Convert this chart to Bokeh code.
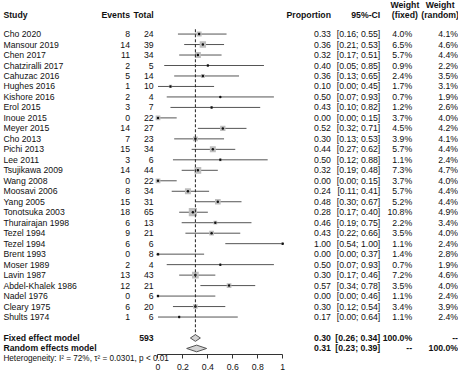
from bokeh.plotting import figure
from bokeh.models import Range1d, ColumnDataSource, FixedTicker, NumeralTickFormatter
from bokeh.core.properties import value
from bokeh.embed import file_html
from bokeh.resources import INLINE
import math

studies = ["Cho 2020", "Mansour 2019", "Chen 2017", "Chatziralli 2017", "Cahuzac 2016",
           "Hughes 2016", "Kishore 2016", "Erol 2015", "Inoue 2015", "Meyer 2015",
           "Cho 2013", "Pichi 2013", "Lee 2011", "Tsujikawa 2009", "Wang 2008",
           "Moosavi 2006", "Yang 2005", "Tonotsuka 2003", "Thurairajan 1998", "Tezel 1994",
           "Tezel 1994", "Brent 1993", "Moser 1989", "Lavin 1987", "Abdel-Khalek 1986",
           "Nadel 1976", "Cleary 1975", "Shults 1974"]
events = [8, 14, 11, 2, 5, 1, 2, 3, 0, 14, 7, 15, 3, 14, 0, 8, 15, 18, 6, 9, 6, 0, 2, 13, 12, 0, 6, 1]
totals = [24, 39, 34, 5, 14, 10, 4, 7, 22, 27, 23, 34, 6, 44, 22, 34, 31, 65, 13, 21, 6, 8, 4, 43, 21, 6, 20, 6]
prop = [0.33, 0.36, 0.32, 0.40, 0.36, 0.10, 0.50, 0.43, 0.00, 0.52, 0.30, 0.44, 0.50, 0.32, 0.00,
        0.24, 0.48, 0.28, 0.46, 0.43, 1.00, 0.00, 0.50, 0.30, 0.57, 0.00, 0.30, 0.17]
lower = [0.16, 0.21, 0.17, 0.05, 0.13, 0.00, 0.07, 0.10, 0.00, 0.32, 0.13, 0.27, 0.12, 0.19, 0.00,
         0.11, 0.30, 0.17, 0.19, 0.22, 0.54, 0.00, 0.07, 0.17, 0.34, 0.00, 0.12, 0.00]
upper = [0.55, 0.53, 0.51, 0.85, 0.65, 0.45, 0.93, 0.82, 0.15, 0.71, 0.53, 0.62, 0.88, 0.48, 0.15,
         0.41, 0.67, 0.40, 0.75, 0.66, 1.00, 0.37, 0.93, 0.46, 0.78, 0.46, 0.54, 0.64]
w_fixed = [4.0, 6.5, 5.7, 0.9, 2.4, 1.7, 0.7, 1.2, 3.7, 4.5, 3.9, 5.7, 1.1, 7.3, 3.7,
           5.7, 5.2, 10.8, 2.2, 3.5, 1.1, 1.4, 0.7, 7.2, 3.5, 1.1, 3.4, 1.1]
w_random = [4.1, 4.6, 4.4, 2.2, 3.5, 3.1, 1.9, 2.6, 4.0, 4.2, 4.1, 4.4, 2.4, 4.7, 4.0,
            4.4, 4.4, 4.9, 3.4, 4.0, 2.4, 2.8, 1.9, 4.6, 4.0, 2.4, 3.9, 2.4]

fixed_est, fixed_lo, fixed_hi = 0.30, 0.26, 0.34
random_est, random_lo, random_hi = 0.31, 0.23, 0.39
total_n = 593
heterogeneity = "Heterogeneity: I\u00b2 = 72%, \u03c4\u00b2 = 0.0301, p < 0.01"
axis_ticks = [0, 0.2, 0.4, 0.6, 0.8, 1.0]

# ---- layout (reference pixel space mapped into the figure) ----
W, H = 458, 373
REF_W, REF_H = 474, 389
SX, SY = W / REF_W, H / REF_H
ROW0, ROWH = 35.0, 10.93          # reference y of first row, row spacing
X0, X1 = 163.0, 292.0             # reference x of proportion 0 and 1
ppu = X1 - X0


def ry2row(ry):
    return (ry - ROW0) / ROWH


def rx2u(rx):
    return (rx - X0) / ppu


p = figure(width=W, height=H, output_backend="svg", toolbar_location=None,
           x_range=Range1d(rx2u(0), rx2u(REF_W)),
           y_range=Range1d(ry2row(REF_H), ry2row(0)),
           x_axis_location="below", y_axis_location=None,
           min_border=0)
p.extra_x_ranges = {"px": Range1d(0, REF_W)}
p.outline_line_color = None
p.grid.visible = False
p.background_fill_color = "white"
p.border_fill_color = "white"

ax = p.xaxis[0]
ax.fixed_location = ry2row(369)
ax.bounds = (0, 1)
ax.ticker = FixedTicker(ticks=axis_ticks)
ax.formatter = NumeralTickFormatter(format="0.[0]")
ax.axis_line_color = "#333333"
ax.major_tick_line_color = "#333333"
ax.minor_tick_line_color = None
ax.major_tick_out = 4
ax.major_tick_in = 0
ax.major_label_standoff = 6
ax.major_label_text_font = "Liberation Sans"
ax.major_label_text_font_size = "8.7px"
ax.major_label_text_color = "#111111"

n = len(studies)
rows = list(range(n))
fixed_row, random_row, het_row = n + 1, n + 2, n + 3

FONT = value("Liberation Sans")
FS = "8.7px"
TC = "#111111"

# ---- CI lines, squares, dots ----
ci_src = ColumnDataSource(dict(lo=lower, hi=upper, y=rows, est=prop,
                               size=[8.5 * SX * math.sqrt(w / max(w_fixed)) for w in w_fixed]))
p.segment(x0="lo", y0="y", x1="hi", y1="y", source=ci_src, line_color="#555555", line_width=1)
p.scatter(x="est", y="y", size="size", marker="square", source=ci_src,
          fill_color="#bebebe", line_color=None)
p.scatter(x="est", y="y", size=2.5, marker="circle", source=ci_src,
          fill_color="#111111", line_color=None)

# ---- reference dashed line ----
p.segment(x0=[fixed_est], y0=[ry2row(30)], x1=[fixed_est], y1=[fixed_row - 0.3],
          line_color="#222222", line_width=1, line_dash="3 2")

# ---- diamonds ----
dh = 0.32
p.patches(xs=[[fixed_lo, fixed_est, fixed_hi, fixed_est], [random_lo, random_est, random_hi, random_est]],
          ys=[[fixed_row, fixed_row - dh, fixed_row, fixed_row + dh],
              [random_row, random_row - dh, random_row, random_row + dh]],
          fill_color="#d3d3d3", line_color="#555555", line_width=1)


def add_text(xs, ys, texts, align, bold=False, size=FS):
    src = ColumnDataSource(dict(x=xs, y=ys, t=texts))
    p.text(x="x", y="y", text="t", source=src, x_range_name="px",
           text_align=align, text_baseline="middle", text_font=FONT,
           text_font_size=size, text_color=TC,
           text_font_style="bold" if bold else "normal")


# column x positions in reference pixels
cx_study, cx_events, cx_total = 3, 134, 158.5
cx_prop, cx_ci, cx_wf, cx_wr = 342, 393, 426, 473.5
hx_wf, hx_wr = 418.5, 455
hdr1, hdr0 = ry2row(15.5), ry2row(5)

# headers
add_text([cx_study], [hdr1], ["Study"], "left", True)
add_text([cx_events, cx_total, cx_prop, cx_ci], [hdr1] * 4,
         ["Events", "Total", "Proportion", "95%-CI"], "right", True)
add_text([hx_wf, hx_wr, hx_wf, hx_wr], [hdr0, hdr0, hdr1, hdr1],
         ["Weight", "Weight", "(fixed)", "(random)"], "center", True)

# study rows
add_text([cx_study] * n, rows, studies, "left")
add_text([cx_events] * n, rows, [str(e) for e in events], "right")
add_text([cx_total] * n, rows, [str(t) for t in totals], "right")
add_text([cx_prop] * n, rows, [f"{v:.2f}" for v in prop], "right")
add_text([cx_ci] * n, rows, [f"[{a:.2f}; {b:.2f}]" for a, b in zip(lower, upper)], "right")
add_text([cx_wf] * n, rows, [f"{w:.1f}%" for w in w_fixed], "right")
add_text([cx_wr] * n, rows, [f"{w:.1f}%" for w in w_random], "right")

# summary rows
add_text([cx_study, cx_study], [fixed_row, random_row],
         ["Fixed effect model", "Random effects model"], "left", True)
add_text([cx_total], [fixed_row], [str(total_n)], "right", True)
add_text([cx_prop, cx_prop], [fixed_row, random_row],
         [f"{fixed_est:.2f}", f"{random_est:.2f}"], "right", True)
add_text([cx_ci, cx_ci], [fixed_row, random_row],
         [f"[{fixed_lo:.2f}; {fixed_hi:.2f}]", f"[{random_lo:.2f}; {random_hi:.2f}]"], "right", True)
add_text([cx_wf, cx_wf], [fixed_row, random_row], ["100.0%", "--"], "right", True)
add_text([cx_wr, cx_wr], [fixed_row, random_row], ["--", "100.0%"], "right", True)

# heterogeneity line
add_text([cx_study], [het_row], [heterogeneity], "left", size="8.2px")

open("out.html", "w").write(file_html(p, INLINE))
